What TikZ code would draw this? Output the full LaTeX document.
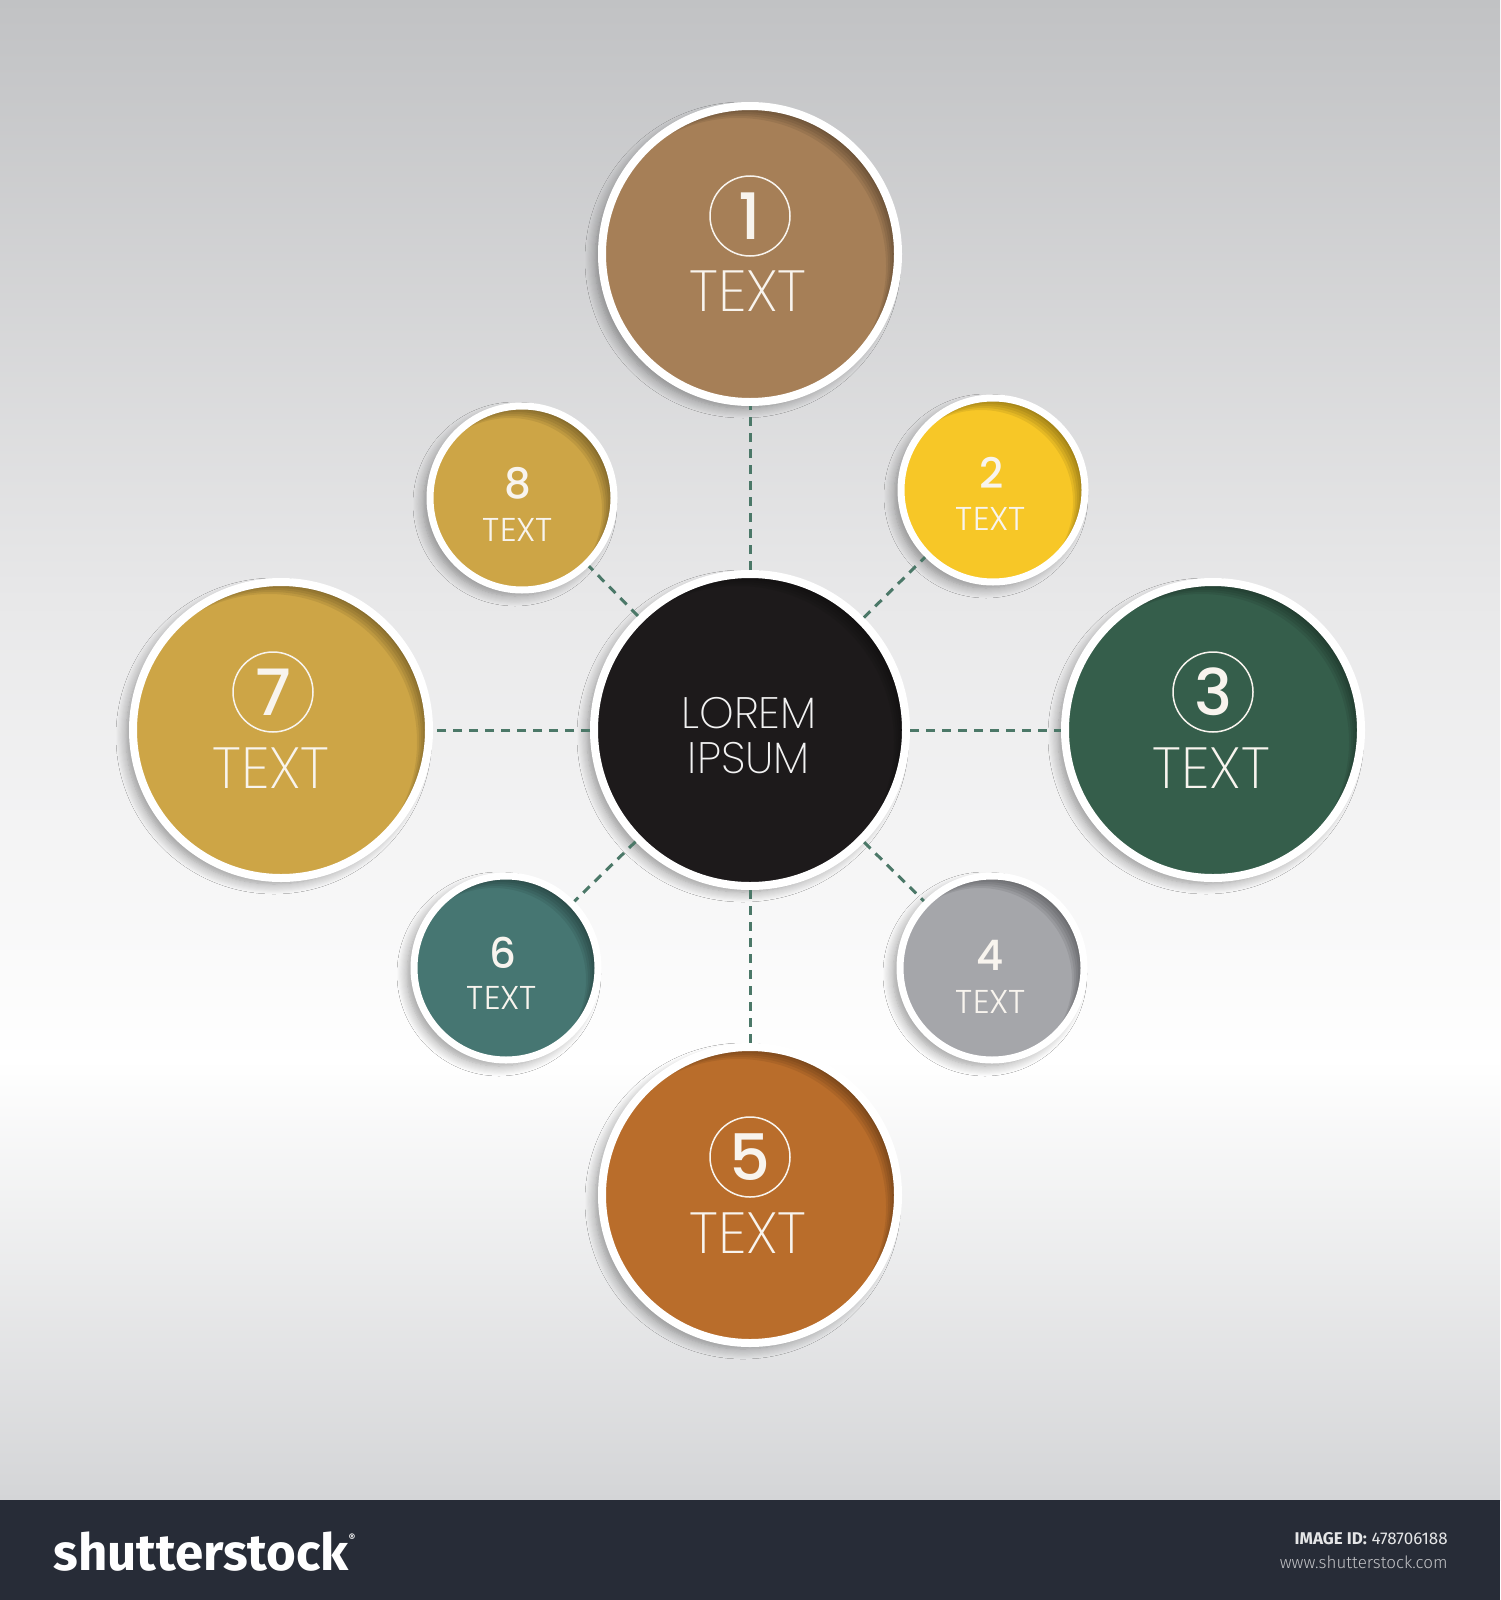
\documentclass[tikz,border=0pt]{standalone}
\usepackage{fontspec}
\setmainfont{Fira Sans}
\IfFontExistsTF{Poppins ExtraLight}{\newfontfamily\thinfont{Poppins ExtraLight}}{%
 \IfFontExistsTF{Fira Sans ExtraLight}{\newfontfamily\thinfont{Fira Sans ExtraLight}}{%
  \IfFontExistsTF{Fira Sans Light}{\newfontfamily\thinfont{Fira Sans Light}}{\newfontfamily\thinfont{Fira Sans}}}}
\IfFontExistsTF{Poppins Light}{\newfontfamily\lightfont{Poppins Light}}{%
  \IfFontExistsTF{Fira Sans Light}{\newfontfamily\lightfont{Fira Sans Light}}{\newfontfamily\lightfont{Fira Sans}}}
\IfFontExistsTF{Fira Sans Light}{\newfontfamily\urlfont{Fira Sans Light}}{\newfontfamily\urlfont{Fira Sans}}
\IfFontExistsTF{Poppins Medium}{\newfontfamily\medfont{Poppins Medium}}{%
  \IfFontExistsTF{Fira Sans Medium}{\newfontfamily\medfont{Fira Sans Medium}}{\newfontfamily\medfont{Fira Sans}}}
\usetikzlibrary{shadows.blur}
\definecolor{bgtop}{HTML}{C1C2C4}
\definecolor{bgmid}{HTML}{E8E8E9}
\definecolor{bgbot}{HTML}{D4D5D7}
\definecolor{barc}{HTML}{272C37}
\definecolor{ctan}{HTML}{A67F57}
\definecolor{cyel}{HTML}{F7C727}
\definecolor{cgrn}{HTML}{355E4B}
\definecolor{cgry}{HTML}{A5A6AA}
\definecolor{corg}{HTML}{B96D2B}
\definecolor{ctea}{HTML}{467672}
\definecolor{cgld}{HTML}{CDA546}
\definecolor{chub}{HTML}{1D1A1B}
\definecolor{dashc}{HTML}{4B7868}
\definecolor{txtc}{HTML}{F8F4EE}
\pgfdeclareverticalshading{bgshade}{100bp}{color(0bp)=(bgbot); color(25bp)=(bgbot); color(39.7bp)=(white); color(55bp)=(bgmid); color(75bp)=(bgtop); color(100bp)=(bgtop)}
\begin{document}
\begin{tikzpicture}[x=0.5pt,y=-0.5pt,
  bub r/.store in=\bubR,
  bubble/.style={circle, inner sep=0pt, fill=#1, draw=white, line width=4pt,
    blur shadow={shadow xshift=-3.5pt, shadow yshift=-3pt, shadow blur radius=5pt, shadow blur steps=10, shadow opacity=40},
    path picture={
      \foreach \s in {2,4,6,8,10,12}{
        \fill[black, opacity=0.075, even odd rule]
          ([shift={(-30,-30)}]path picture bounding box.north west) rectangle
          ([shift={(30,30)}]path picture bounding box.south east)
          ([shift={(-\s,\s)}]path picture bounding box.center) circle[radius=\bubR];
      }
    }},
  big/.style={bubble=#1, minimum size=148pt, bub r=148},
  small/.style={bubble=#1, minimum size=92pt, bub r=92, line width=3.5pt},
  hub/.style={bubble=#1, minimum size=156pt, bub r=156},
  numring/.style={circle, draw=txtc, line width=0.75pt, minimum size=40pt, inner sep=0pt,
    text=txtc, font=\medfont\fontsize{32}{32}\selectfont},
  bigtext/.style={inner sep=0pt, text=txtc, font=\thinfont\fontsize{29}{29}\selectfont},
  smallnum/.style={inner sep=0pt, text=txtc, font=\medfont\fontsize{21}{21}\selectfont},
  smalltext/.style={inner sep=0pt, text=txtc, font=\lightfont\fontsize{16.5}{16.5}\selectfont},
  conn/.style={draw=dashc, line width=1.5pt, dash pattern=on 4.5pt off 3.5pt}
]
\useasboundingbox (0,0) rectangle (1500,1600);
\shade[shading=bgshade] (0,0) rectangle (1500,1500);
\fill[barc] (0,1500) rectangle (1500,1600);

% nodes
\node[hub=chub] (hub) at (750,730) {};
\node[big=ctan] (c1) at (750,254) {};
\node[big=cgrn] (c3) at (1213,730) {};
\node[big=corg] (c5) at (750,1195) {};
\node[big=cgld] (c7) at (281,730) {};
\node[small=cyel] (c2) at (993,490) {};
\node[small=cgry] (c4) at (992,968) {};
\node[small=ctea] (c6) at (506,968) {};
\node[small=cgld] (c8) at (522,498) {};

% connectors
\foreach \t in {c1,c2,c3,c4,c5,c6,c7,c8}{
  \draw[conn] (hub) -- (\t);
}

% labels
\node[inner sep=0pt, text=white!90!gray, align=center,
  font=\thinfont\fontsize{22}{22.5}\selectfont] (lorem) at (749,736) {LOREM\\IPSUM};

\node[numring] (n1) at (750,216) {1};
\node[bigtext] (t1) at (748,291) {TEXT};
\node[numring] (n3) at (1213,692) {3};
\node[bigtext] (t3) at (1211,768) {TEXT};
\node[numring] (n5) at (750,1157) {5};
\node[bigtext] (t5) at (748,1233) {TEXT};
\node[numring] (n7) at (273,692) {7};
\node[bigtext] (t7) at (271,768) {TEXT};

\node[smallnum] (n2) at (992,473) {2};
\node[smalltext] (t2) at (991,519) {TEXT};
\node[smallnum] (n4) at (990,955) {4};
\node[smalltext] (t4) at (991,1002) {TEXT};
\node[smallnum] (n6) at (503,953) {6};
\node[smalltext] (t6) at (502,998) {TEXT};
\node[smallnum] (n8) at (518,483) {8};
\node[smalltext] (t8) at (518,530) {TEXT};

% bottom bar
\node[anchor=base west, inner sep=0pt, text=white, font=\bfseries\fontsize{25.5}{25.5}\selectfont] (logo) at (53,1570) {shutterstock\raisebox{0.55em}{\fontsize{5}{5}\selectfont ®}};
\node[anchor=base east, inner sep=0pt, text=white!88!barc, font=\fontsize{8.5}{8.5}\selectfont] (imgid) at (1448,1544) {{\bfseries IMAGE ID:} 478706188};
\node[anchor=base east, inner sep=0pt, text=white!72!barc, font=\urlfont\fontsize{8.5}{8.5}\selectfont] (url) at (1448,1568) {www.shutterstock.com};
\end{tikzpicture}
\end{document}
